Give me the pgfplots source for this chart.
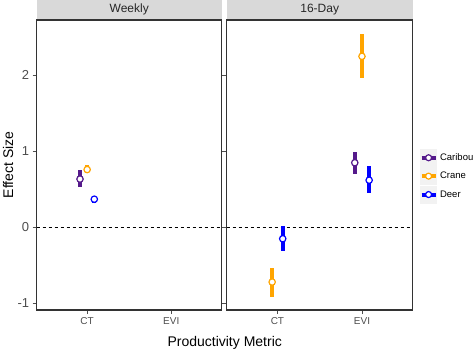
\documentclass[border=0pt]{standalone}
\usepackage{fontspec}
\setmainfont{Liberation Sans}
\usepackage{pgfplots}
\usepackage{pgfplotstable}
\pgfplotsset{compat=1.18}
\definecolor{caribou}{HTML}{551A8B}
\definecolor{crane}{HTML}{FFA500}
\definecolor{deer}{HTML}{0000FF}
\definecolor{stripgray}{HTML}{D9D9D9}
\definecolor{framegray}{HTML}{333333}
\definecolor{ticklab}{HTML}{4D4D4D}
\definecolor{keybg}{HTML}{F2F2F2}

\pgfplotstableread{
x y ep em
0.915 0.635 0.115 0.105
}\wkCaribou
\pgfplotstableread{
x y ep em
1.0 0.76 0.06 0.05
}\wkCrane
\pgfplotstableread{
x y ep em
1.085 0.37 0.04 0.05
}\wkDeer
\pgfplotstableread{
x y ep em
1.915 0.85 0.14 0.15
}\sdCaribou
\pgfplotstableread{
x y ep em
0.9375 -0.72 0.19 0.20
2.0 2.25 0.29 0.29
}\sdCrane
\pgfplotstableread{
x y ep em
1.0625 -0.15 0.17 0.16
2.085 0.62 0.19 0.165
}\sdDeer

\pgfplotsset{
 panel/.style={scale only axis, width=185pt, height=290pt,
   xmin=0.4, xmax=2.6, ymin=-1.088, ymax=2.728,
   axis line style={framegray, line width=1.1pt},
   tick align=outside, major tick length=4pt,
   tick style={ticklab, line width=0.8pt},
   xtick={1,2}, xticklabels={CT,EVI},
   x tick label style={font=\fontsize{10}{12}\selectfont, text=ticklab},
   y tick label style={font=\fontsize{13}{15}\selectfont, text=ticklab},
   /pgf/number format/assume math mode=true,
   clip=false},
 eb/.style={only marks, mark=*, mark size=3.2pt,
   mark options={fill=white, line width=1.2pt},
   error bars/.cd, y dir=both, y explicit, error mark=none,
   error bar style={line width=4pt}},
}

\begin{document}
\begin{tikzpicture}
\useasboundingbox (0pt,0pt) rectangle (474pt,351pt);
% Weekly panel
\begin{axis}[panel, at={(36.7pt,41pt)}, anchor=south west,
  ytick={-1,0,1,2},
  ylabel={Effect Size},
  ylabel style={at={(axis description cs:-0.155,0.5)}, anchor=center, font=\fontsize{14}{16}\selectfont}]
\fill[stripgray] (axis description cs:0,1.0034) rectangle (axis description cs:1,1.069);
\node[font=\fontsize{12}{14}\selectfont, text=black!85] at (axis description cs:0.5,1.036) {Weekly};
\addplot[black, dashed, line width=0.7pt, forget plot] coordinates {(0.4,0) (2.6,0)};
\addplot[caribou, eb] table[x=x, y=y, y error plus=ep, y error minus=em]{\wkCaribou};
\addplot[crane, eb] table[x=x, y=y, y error plus=ep, y error minus=em]{\wkCrane};
\addplot[deer, eb] table[x=x, y=y, y error plus=ep, y error minus=em]{\wkDeer};
\end{axis}
% 16-Day panel
\begin{axis}[panel, at={(226.7pt,41pt)}, anchor=south west, width=186pt,
  ytick=\empty,
  legend cell align=left,
  legend image code/.code={
    \fill[keybg] (-1pt,-8.5pt) rectangle (15pt,8.5pt);
    \draw[line width=4pt] (0pt,0pt) -- (14pt,0pt);
    \draw[line width=1.2pt, fill=white] (7pt,0pt) circle (3pt);
  },
  legend style={at={(axis description cs:1.037,0.555)}, anchor=north west,
    draw=none, fill=none, inner sep=0pt, outer sep=0pt,
    font=\fontsize{9.5}{11}\selectfont, row sep=1pt,
    nodes={inner sep=2.5pt}}]
\fill[stripgray] (axis description cs:0,1.0034) rectangle (axis description cs:1,1.069);
\node[font=\fontsize{12}{14}\selectfont, text=black!85] at (axis description cs:0.5,1.036) {16-Day};
\addplot[black, dashed, line width=0.7pt, forget plot] coordinates {(0.4,0) (2.6,0)};
\addplot[caribou, eb] table[x=x, y=y, y error plus=ep, y error minus=em]{\sdCaribou};
\addlegendentry{Caribou}
\addplot[crane, eb] table[x=x, y=y, y error plus=ep, y error minus=em]{\sdCrane};
\addlegendentry{Crane}
\addplot[deer, eb] table[x=x, y=y, y error plus=ep, y error minus=em]{\sdDeer};
\addlegendentry{Deer}
\end{axis}
\node[font=\fontsize{14}{16}\selectfont] at (224.7pt,8pt) {Productivity Metric};
\end{tikzpicture}
\end{document}
